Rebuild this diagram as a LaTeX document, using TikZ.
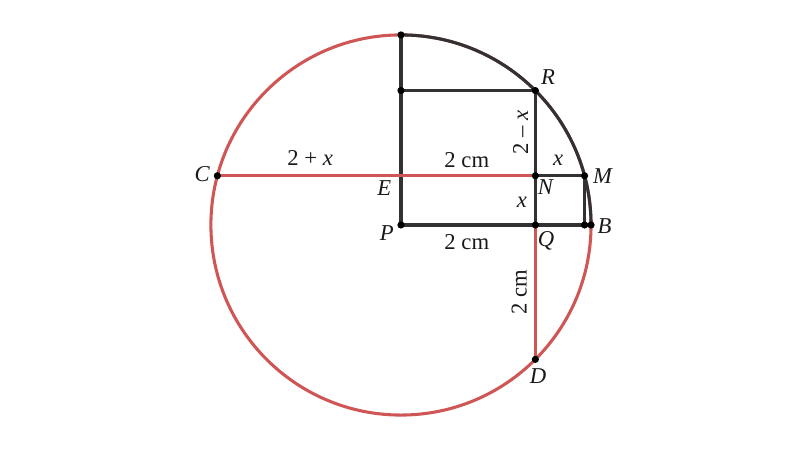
\documentclass[tikz,border=0pt]{standalone}
\usepackage{fontspec}
\setmainfont{Liberation Serif}
\definecolor{cred}{RGB}{208,86,86}
\definecolor{cdark}{RGB}{50,50,50}
\definecolor{ctext}{RGB}{25,25,25}
\tikzset{
  redline/.style={draw=cred, line width=2.3pt},
  darkline/.style={draw=cdark, line width=2.3pt},
  dot/.style={circle, fill=black, inner sep=0pt, minimum size=5.4pt},
  lbl/.style={text=ctext, font=\fontsize{17}{20}\selectfont\itshape, inner sep=0pt},
  meas/.style={text=ctext, font=\fontsize{17}{20}\selectfont, inner sep=0pt}
}
\begin{document}
\begin{tikzpicture}[x=50.4pt,y=50.4pt]
\useasboundingbox (-5.967,-3.348) rectangle (5.938,3.348);
\def\xx{0.7320508}
\def\rr{2.8284271}
\coordinate (P) at (0,0);
\coordinate (T) at (0,\rr);
\coordinate (A) at (0,2);
\coordinate (R) at (2,2);
\coordinate (E) at (0,\xx);
\coordinate (N) at (2,\xx);
\coordinate (M) at ({2+\xx},\xx);
\coordinate (C) at ({-2-\xx},\xx);
\coordinate (Q) at (2,0);
\coordinate (S) at ({2+\xx},0);
\coordinate (B) at (\rr,0);
\coordinate (D) at (2,-2);
% circle
\draw[redline] (P) circle (\rr);
\draw[darkline] (T) arc (90:0:\rr);
% black lines
\draw[darkline] (T) -- (P) -- (B);
\draw[darkline] (A) -- (R) -- (Q);
\draw[darkline] (N) -- (M) -- (S);
% red lines
\draw[redline] (C) -- (N);
\draw[redline] (Q) -- (D);
% dots
\foreach \p in {T,A,R,C,N,M,S,B,P,Q,D} \node[dot] (d\p) at (\p) {};
% point labels
\node[lbl] (lR) at (2.19,2.20) {R};
\node[lbl] (lC) at (-2.96,0.76) {C};
\node[lbl] (lE) at (-0.25,0.55) {E};
\node[lbl] (lN) at (2.15,0.57) {N};
\node[lbl] (lM) at (3.0,0.73) {M};
\node[lbl] (lB) at (3.03,-0.01) {B};
\node[lbl] (lP) at (-0.21,-0.12) {P};
\node[lbl] (lQ) at (2.16,-0.24) {Q};
\node[lbl] (lD) at (2.04,-2.25) {D};
% measurement labels
\node[meas] (m1) at (-1.35,1.0) {2 + \textit{x}};
\node[meas] (m2) at (0.98,0.97) {2 cm};
\node[meas] (m3) at (0.98,-0.25) {2 cm};
\node[meas, rotate=90] (m4) at (1.78,1.37) {2 – \textit{x}};
\node[meas] (m5) at (2.34,0.97) {\textit{x}};
\node[meas] (m6) at (1.80,0.34) {\textit{x}};
\node[meas, rotate=90] (m7) at (1.76,-1.0) {2 cm};
\end{tikzpicture}
\end{document}
